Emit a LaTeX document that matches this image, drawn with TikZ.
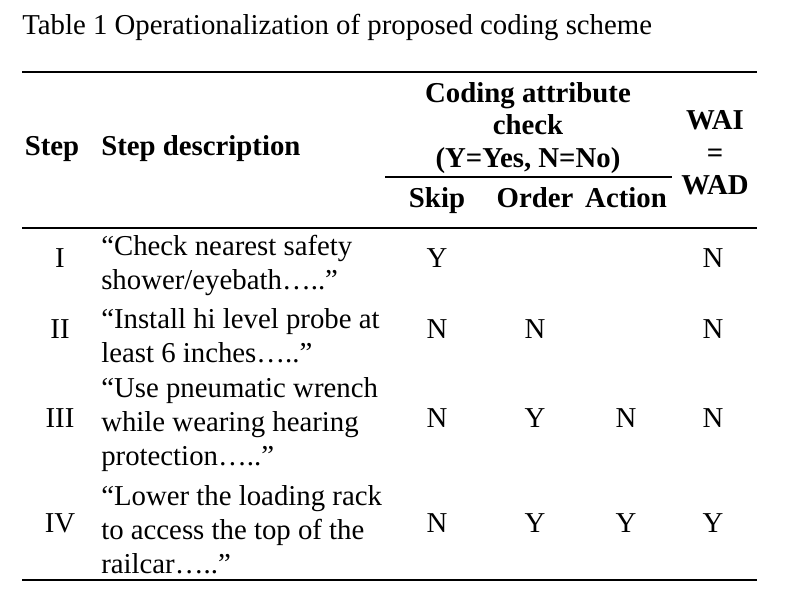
\documentclass[tikz,border=0pt]{standalone}
\usepackage{fontspec}
\setmainfont{Liberation Serif}
\begin{document}
\begin{tikzpicture}[x=0.75pt,y=-0.75pt,
 t/.style={inner sep=0pt,text height=1.25ex,text depth=0.45ex,font=\fontsize{21.6}{25.5}\selectfont},
 b/.style={t,font=\fontsize{21.6}{24.5}\selectfont\bfseries},
 l/.style={inner sep=0pt,anchor=west,align=left,font=\fontsize{21.6}{25.5}\selectfont}]
\useasboundingbox (0,0) rectangle (805,599);
\node[l,font=\fontsize{21.6}{22}\selectfont] (title) at (22,27) {Table 1 Operationalization of proposed coding scheme};
\coordinate (tl) at (22,72); \coordinate (tr) at (757,72);
\draw[line width=1.6pt] (tl) -- (tr);
\node[b] (hstep) at (52,153) {Step};
\node[b,anchor=west] (hdesc) at (101,153) {Step description};
\node[b,align=center,text height=,text depth=] (hcode) at (528,128) {Coding attribute\\check\\(Y=Yes, N=No)};
\node[b,align=center,text height=,text depth=] (hwai) at (715,153) {WAI\\=\\WAD};
\coordinate (ml) at (385,177); \coordinate (mr) at (672,177);
\draw[line width=0.8pt] (ml) -- (mr);
\node[b] (hskip) at (437,205) {Skip};
\node[b] (hord) at (535,205) {Order};
\node[b] (hact) at (626,205) {Action};
\coordinate (sl) at (22,228); \coordinate (sr) at (757,228);
\draw[line width=0.8pt] (sl) -- (sr);
\node[t] (r1) at (60,265) {I};
\node[l] (d1) at (101,265) {“Check nearest safety\\shower/eyebath…..”};
\node[t] (s1) at (437,265) {Y};
\node[t] (w1) at (713,265) {N};
\node[t] (r2) at (60,336) {II};
\node[l] (d2) at (101,336) {“Install hi level probe at\\least 6 inches…..”};
\node[t] (s2) at (437,336) {N};
\node[t] (o2) at (535,336) {N};
\node[t] (w2) at (713,336) {N};
\node[t] (r3) at (60,425) {III};
\node[l] (d3) at (101,425) {“Use pneumatic wrench\\while wearing hearing\\protection…..”};
\node[t] (s3) at (437,425) {N};
\node[t] (o3) at (535,425) {Y};
\node[t] (a3) at (626,425) {N};
\node[t] (w3) at (713,425) {N};
\node[t] (r4) at (60,530) {IV};
\node[l] (d4) at (101,530) {“Lower the loading rack\\to access the top of the\\railcar…..”};
\node[t] (s4) at (437,530) {N};
\node[t] (o4) at (535,530) {Y};
\node[t] (a4) at (626,530) {Y};
\node[t] (w4) at (713,530) {Y};
\coordinate (bl) at (22,580); \coordinate (br) at (757,580);
\draw[line width=1.2pt] (bl) -- (br);
\end{tikzpicture}
\end{document}
